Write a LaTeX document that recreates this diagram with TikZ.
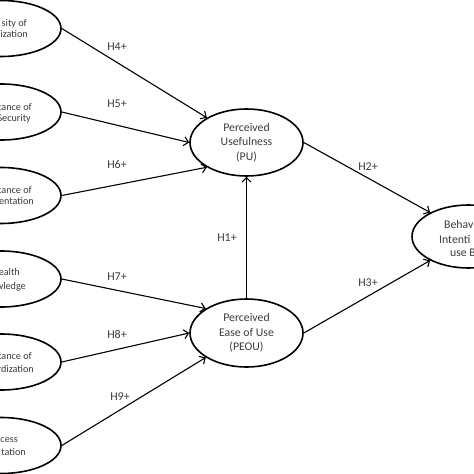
\documentclass[tikz,border=0pt]{standalone}
\usepackage{fontspec}
\setmainfont{Carlito}
\usetikzlibrary{shapes.geometric,arrows.meta}
\definecolor{txtgray}{RGB}{60,60,60}
\begin{document}
\begin{tikzpicture}[x=1bp,y=-1bp,
  ell/.style={draw=black,line width=1.6bp,ellipse,inner sep=0pt,text=txtgray,align=center,
    font=\fontsize{11.8}{14.5}\selectfont},
  conn/.style={draw=black,line width=1.1bp,-{Straight Barb[length=4.5bp,width=9bp,line width=1.1bp]}},
  txt/.style={text=txtgray,font=\fontsize{11.8}{14}\selectfont,inner sep=0pt},
  ltxt/.style={text=txtgray,font=\fontsize{10.2}{12}\selectfont,inner sep=0pt,anchor=base east},
  hlab/.style={text=txtgray,font=\fontsize{12}{14}\selectfont,inner sep=0pt}]
\useasboundingbox (0,0) rectangle (474,474);
\clip (0,0) rectangle (474,474);
\fill[white] (0,0) rectangle (474,474);
% left ellipses
\node[ell,minimum width=120bp,minimum height=56bp] (e1) at (1,28.5) {};
\node[ell,minimum width=120bp,minimum height=56bp] (e2) at (1,112) {};
\node[ell,minimum width=120bp,minimum height=56bp] (e3) at (1,195.5) {};
\node[ell,minimum width=120bp,minimum height=56bp] (e4) at (1,279) {};
\node[ell,minimum width=120bp,minimum height=56bp] (e5) at (1,362) {};
\node[ell,minimum width=120bp,minimum height=56bp] (e6) at (1,445.5) {};
% left texts
\node[ltxt] (t1a) at (27,26.5) {sity of};
\node[ltxt] (t1b) at (28,37.5) {lization};
\node[ltxt] (t2a) at (32,110.5) {tance of};
\node[ltxt] (t2b) at (31,121.5) {Security};
\node[ltxt] (t3a) at (32,193.5) {tance of};
\node[ltxt] (t3b) at (34,204.5) {entation};
\node[ltxt] (t4a) at (20,275.5) {ealth};
\node[ltxt] (t4b) at (26,289.5) {wledge};
\node[ltxt] (t5a) at (32,359.5) {tance of};
\node[ltxt] (t5b) at (34,372.5) {rdization};
\node[ltxt] (t6a) at (18,442.5) {ocess};
\node[ltxt] (t6b) at (26,455.5) {tation};
% central ellipses
\node[ell,minimum width=113bp,minimum height=67bp] (pu) at (246.5,142.5) {Perceived\\Usefulness\\(PU)};
\node[ell,minimum width=113bp,minimum height=68bp] (peou) at (246.5,333) {Perceived\\Ease of Use\\(PEOU)};
% right ellipse
\node[ell,minimum width=113bp,minimum height=63bp] (bi) at (468.5,236.5) {};
\node[txt,anchor=base west] (b1) at (444,228.5) {Behav};
\node[txt,anchor=base west] (b2) at (439,243.5) {Intenti};
\node[txt,anchor=base west] (b3) at (450,256.5) {use B};
% connectors
\draw[conn] (e1.east) -- (pu.148);
\draw[conn] (e2.east) -- (pu.west);
\draw[conn] (e3.east) -- (pu.212);
\draw[conn] (e4.east) -- (peou.149);
\draw[conn] (e5.east) -- (peou.west);
\draw[conn] (e6.east) -- (peou.211);
\draw[conn] (peou.north) -- (pu.south);
\draw[conn] (pu.east) -- (bi.148);
\draw[conn] (peou.east) -- (bi.212);
% labels
\node[hlab] (h4) at (117,47) {H4+};
\node[hlab] (h5) at (117,104) {H5+};
\node[hlab] (h6) at (117,165) {H6+};
\node[hlab] (h7) at (117,277) {H7+};
\node[hlab] (h8) at (117,334) {H8+};
\node[hlab] (h9) at (120,397) {H9+};
\node[hlab] (h1) at (227,238) {H1+};
\node[hlab] (h2) at (368,167) {H2+};
\node[hlab] (h3) at (368,283) {H3+};
\end{tikzpicture}
\end{document}
